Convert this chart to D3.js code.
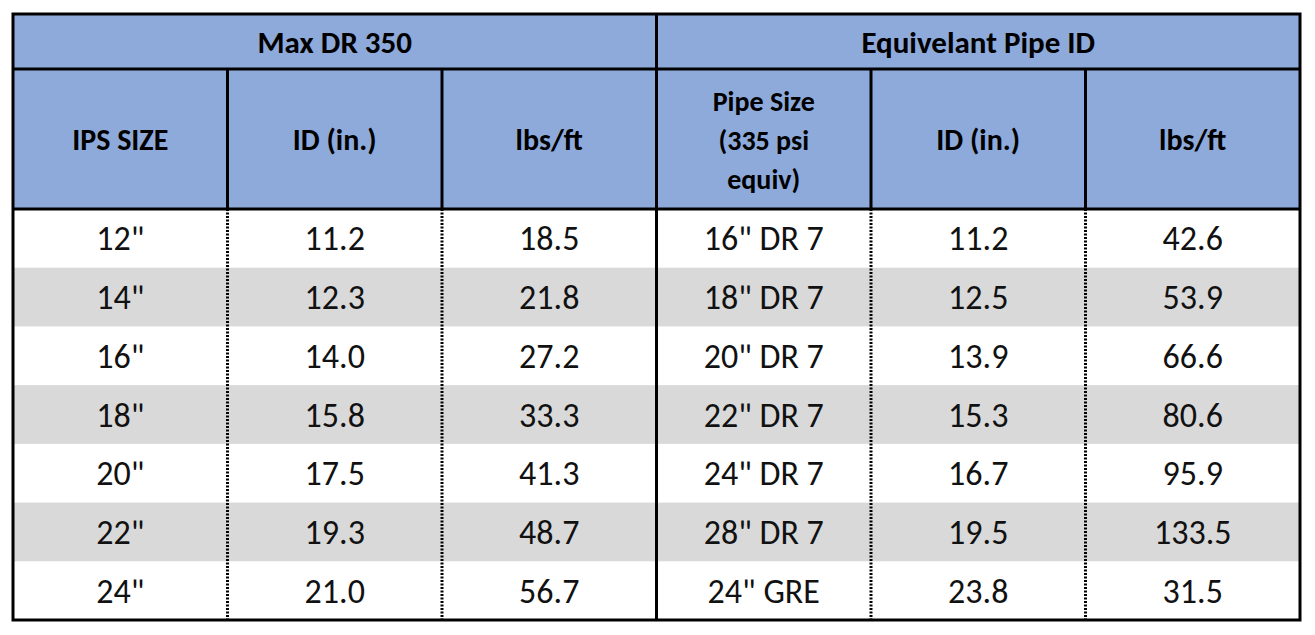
<!DOCTYPE html>
<html><head><meta charset="utf-8">
<script src="https://cdn.jsdelivr.net/npm/d3@7"></script>
<style>body{margin:0;background:#fff}</style></head>
<body><svg id="t" width="1315" height="635"></svg>
<script>
const groups = ["Max DR 350", "Equivelant Pipe ID"];
const headers = [["IPS  SIZE"], ["ID (in.)"], ["lbs/ft"], ["Pipe Size", "(335 psi", "equiv)"], ["ID (in.)"], ["lbs/ft"]];
const ipsSize = ['12"', '14"', '16"', '18"', '20"', '22"', '24"'];
const maxId = ["11.2", "12.3", "14.0", "15.8", "17.5", "19.3", "21.0"];
const maxLbs = ["18.5", "21.8", "27.2", "33.3", "41.3", "48.7", "56.7"];
const pipeSize = ['16" DR 7', '18" DR 7', '20" DR 7', '22" DR 7', '24" DR 7', '28" DR 7', '24" GRE'];
const eqId = ["11.2", "12.5", "13.9", "15.3", "16.7", "19.5", "23.8"];
const eqLbs = ["42.6", "53.9", "66.6", "80.6", "95.9", "133.5", "31.5"];

const cols = [ipsSize, maxId, maxLbs, pipeSize, eqId, eqLbs];
const svg = d3.select("#t");
const font = "Carlito, Calibri, 'Open Sans', sans-serif";
const x = d3.scaleBand().domain(d3.range(6)).range([13, 1300]);
const y = d3.scaleBand().domain(d3.range(7)).range([209, 620]);
const gx = d3.scaleBand().domain(d3.range(2)).range([13, 1300]);
const blue = "#8eaadb";

svg.append("rect").attr("x", 13).attr("y", 14).attr("width", 1287).attr("height", 195).attr("fill", blue);
svg.selectAll(".stripe").data(d3.range(7).filter(i => i % 2 === 1)).join("rect")
  .attr("x", 13).attr("width", 1287).attr("y", i => y(i)).attr("height", y.bandwidth()).attr("fill", "#d9d9d9");

svg.selectAll(".g").data(groups).join("text")
  .attr("x", (d, i) => gx(i) + gx.bandwidth() / 2).attr("y", 53)
  .attr("text-anchor", "middle").attr("font-family", font).attr("font-weight", "bold")
  .attr("font-size", 31).text(d => d);

headers.forEach((lines, c) => {
  const t = svg.append("text").attr("text-anchor", "middle").attr("font-family", font)
    .attr("font-weight", "bold").attr("font-size", lines.length > 1 ? 28 : 30);
  const lh = 39, y0 = 150 - (lines.length - 1) * lh / 2;
  lines.forEach((l, k) => t.append("tspan").attr("x", x(c) + x.bandwidth() / 2)
    .attr("y", y0 + k * lh).text(l));
});

cols.forEach((col, c) => {
  svg.selectAll(null).data(col).join("text")
    .attr("x", x(c) + x.bandwidth() / 2).attr("y", (d, i) => y(i) + y.bandwidth() / 2 + 12)
    .attr("text-anchor", "middle").attr("font-family", font).attr("font-size", 34)
    .attr("fill", "#111").text(d => d);
});

const line = (x1, y1, x2, y2, w, dash) => svg.append("line").attr("x1", x1).attr("y1", y1)
  .attr("x2", x2).attr("y2", y2).attr("stroke", "#000").attr("stroke-width", w)
  .attr("stroke-dasharray", dash || null);
line(13, 69, 1300, 69, 3);
line(13, 209, 1300, 209, 3);
[1, 2, 4, 5].forEach(c => {
  line(x(c), 69, x(c), 209, 3);
  line(x(c), 209, x(c), 620, 3, "2,1.5");
});
line(x(3), 14, x(3), 620, 3);
svg.append("rect").attr("x", 13).attr("y", 14).attr("width", 1287).attr("height", 606)
  .attr("fill", "none").attr("stroke", "#000").attr("stroke-width", 3);
</script></body></html>
